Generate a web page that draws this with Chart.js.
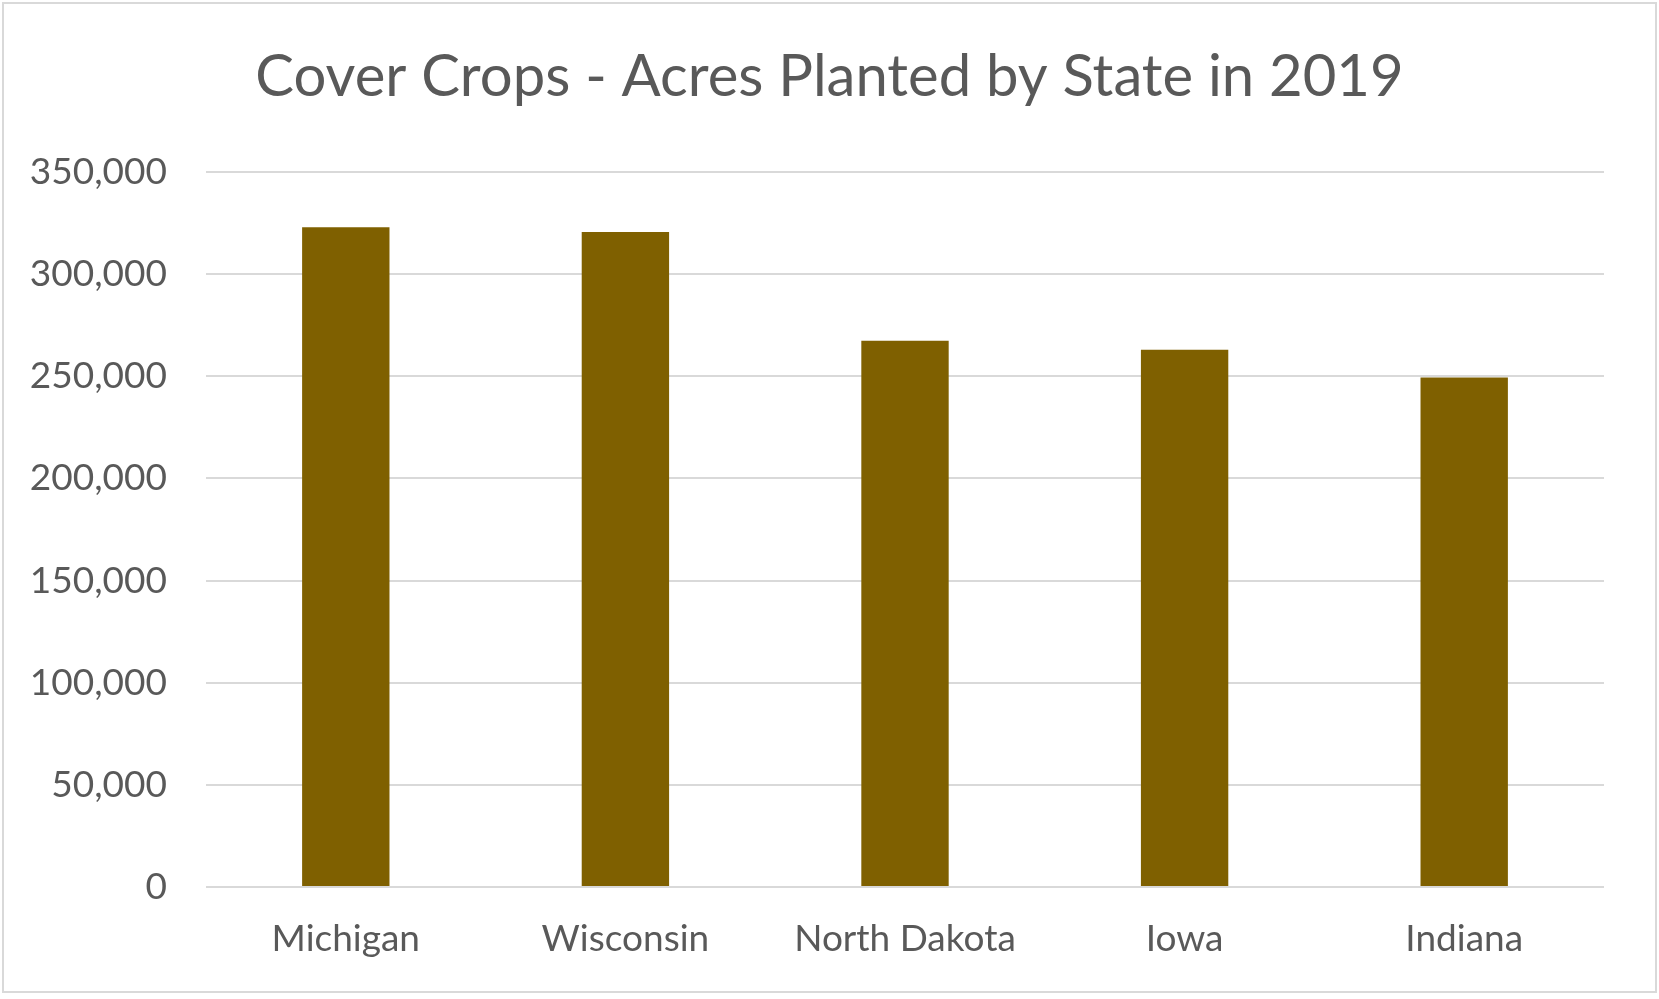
<!DOCTYPE html>
<html>
<head>
<meta charset="utf-8">
<script src="https://cdn.jsdelivr.net/npm/chart.js@4.4.0/dist/chart.umd.min.js"></script>
<style>
  html, body { margin: 0; padding: 0; background: #ffffff; }
  #wrap { width: 1659px; height: 999px; position: relative; }
</style>
</head>
<body>
<div id="wrap"><canvas id="c"></canvas></div>
<script>
const categories = ['Michigan', 'Wisconsin', 'North Dakota', 'Iowa', 'Indiana'];
const acresPlanted = [323000, 320700, 267400, 263000, 249400];
const titleText = 'Cover Crops - Acres Planted by State in 2019';
const yTickValues = [0, 50000, 100000, 150000, 200000, 250000, 300000, 350000];

const FONT = 'Lato, "Open Sans", sans-serif';
const TEXT = '#595959';

const frame = {
  id: 'frame',
  beforeDraw(chart) {
    const ctx = chart.ctx;
    ctx.save();
    ctx.fillStyle = '#ffffff';
    ctx.fillRect(0, 0, chart.width, chart.height);
    ctx.restore();
  },
  afterDraw(chart) {
    const ctx = chart.ctx;
    ctx.save();
    ctx.strokeStyle = '#d9d9d9';
    ctx.lineWidth = 2;
    ctx.strokeRect(3, 3, chart.width - 6, chart.height - 10);
    ctx.restore();
  }
};

new Chart(document.getElementById('c'), {
  type: 'bar',
  data: {
    labels: categories,
    datasets: [{
      data: acresPlanted,
      backgroundColor: '#7f6000',
      borderWidth: 0,
      barPercentage: 0.3125,
      categoryPercentage: 1.0
    }]
  },
  options: {
    responsive: true,
    maintainAspectRatio: false,
    animation: false,
    devicePixelRatio: 1,
    layout: { padding: { left: 0, right: 0, top: 0, bottom: 0 } },
    plugins: {
      legend: { display: false },
      tooltip: { enabled: false },
      title: {
        display: true,
        text: titleText,
        color: TEXT,
        font: { family: FONT, size: 58, weight: 'normal', lineHeight: 1.2 },
        padding: { top: 42.5, bottom: 60 }
      }
    },
    scales: {
      x: {
        grid: { display: false, drawTicks: false },
        border: { display: false },
        ticks: {
          color: TEXT,
          font: { family: FONT, size: 37, lineHeight: 1.2 },
          padding: 30,
          maxRotation: 0,
          autoSkip: false
        },
        afterFit(scale) { scale.height = 112; }
      },
      y: {
        min: 0,
        max: 350000,
        afterBuildTicks(scale) { scale.ticks = yTickValues.map(v => ({ value: v })); },
        grid: { color: '#d9d9d9', lineWidth: 2, drawTicks: false },
        border: { display: false },
        ticks: {
          color: TEXT,
          font: { family: FONT, size: 37, lineHeight: 1.2 },
          padding: 39,
          callback: v => Number(v).toLocaleString('en-US')
        },
        afterFit(scale) { scale.width = 206; }
      },
      yRightSpace: {
        type: 'linear',
        position: 'right',
        display: true,
        grid: { display: false, drawTicks: false },
        border: { display: false },
        ticks: { display: false },
        afterFit(scale) { scale.width = 55; }
      }
    }
  },
  plugins: [frame]
});
</script>
</body>
</html>
